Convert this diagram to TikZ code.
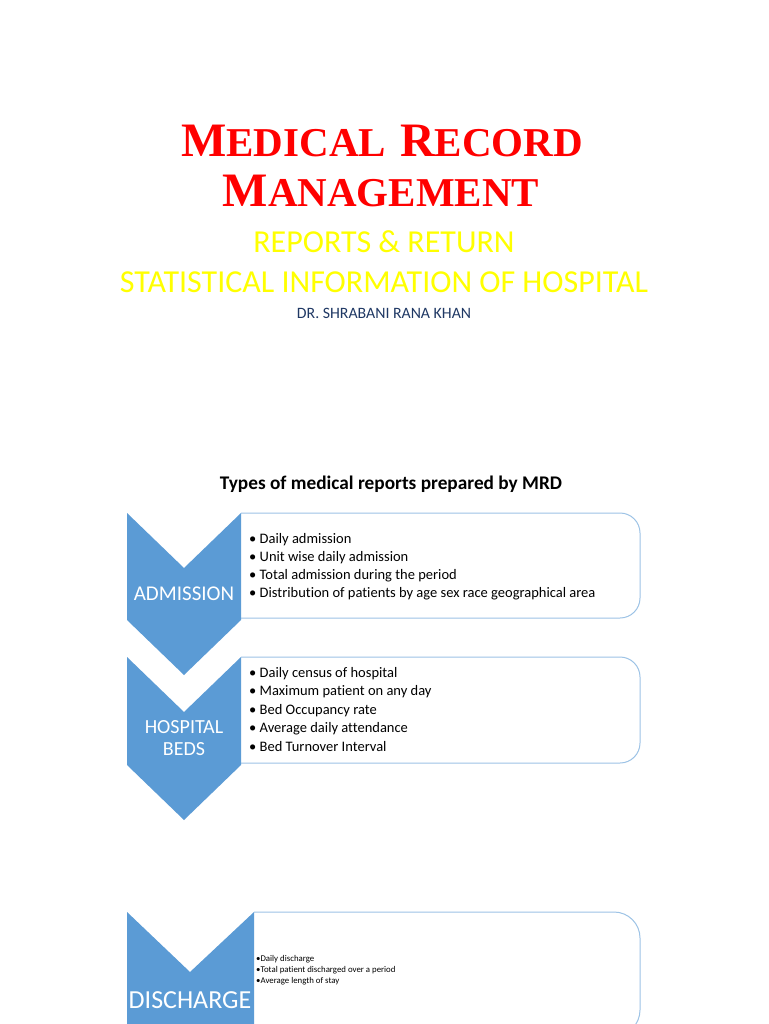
\documentclass[tikz,border=0pt]{standalone}
\usepackage{fontspec}
\setmainfont{Carlito}[Ligatures=NoCommon]
\newfontfamily\titlefont{Liberation Serif}
\definecolor{chevblue}{HTML}{5B9BD5}
\definecolor{boxline}{HTML}{9DC3E6}
\definecolor{titlered}{HTML}{FF0000}
\definecolor{subyellow}{HTML}{FFFF00}
\definecolor{authblue}{HTML}{1F3864}
\newcommand{\bigsc}[2]{{\fontsize{48}{48}\selectfont #1}{\fontsize{41}{41}\selectfont #2}}
\begin{document}
\begin{tikzpicture}[x=1pt,y=-1pt,
  chev/.style={fill=chevblue},
  infobox/.style={draw=boxline,line width=1pt},
  chevlabel/.style={text=white,anchor=base,align=center,inner sep=0pt},
  bul/.style={anchor=base west,inner sep=0pt,font=\fontsize{14.5}{14.5}\selectfont},
  smallbul/.style={anchor=base west,inner sep=0pt,font=\fontsize{8.8}{8.8}\selectfont}]
\useasboundingbox (0,0) rectangle (768,1024);
\clip (0,0) rectangle (768,1024);
\fill[white] (0,0) rectangle (768,1024);
% title
\node[anchor=base,inner sep=0pt,text=titlered] (t1) at (382,157)
  {\titlefont\bfseries\bigsc{M}{EDICAL}\hspace{14pt}\bigsc{R}{ECORD}};
\node[anchor=base,inner sep=0pt,text=titlered] (t2) at (381,207)
  {\titlefont\bfseries\bigsc{M}{ANAGEMENT}};
\node[anchor=base,inner sep=0pt,text=subyellow,font=\fontsize{32}{32}\selectfont] (s1) at (384,252) {REPORTS \& RETURN};
\node[anchor=base,inner sep=0pt,text=subyellow,font=\fontsize{32}{32}\selectfont] (s2) at (384,292) {STATISTICAL INFORMATION OF HOSPITAL};
\node[anchor=base,inner sep=0pt,text=authblue,font=\fontsize{15.8}{15.8}\selectfont] (au) at (384,318) {DR. SHRABANI RANA KHAN};
\node[anchor=base,inner sep=0pt,font=\fontsize{19.3}{19.3}\selectfont\bfseries] (hd) at (391,489) {Types of medical reports prepared by MRD};
% box 1
\draw[infobox] (241,513) [rounded corners=20pt] -- (640,513) -- (640,618) [sharp corners] -- (241,618);
\fill[chev] (127,513) -- (184,568) -- (241,513) -- (241,620) -- (184,675) -- (127,620) -- cycle;
\node[chevlabel,font=\fontsize{21}{21}\selectfont] (c1) at (184,600) {ADMISSION};
\node[bul] (a1) at (249,543) {\textbullet\ Daily admission};
\node[bul] (a2) at (249,561) {\textbullet\ Unit wise daily admission};
\node[bul] (a3) at (249,579) {\textbullet\ Total admission during the period};
\node[bul] (a4) at (249,597) {\textbullet\ Distribution of patients by age sex race geographical area};
% box 2
\draw[infobox] (241,657) [rounded corners=20pt] -- (640,657) -- (640,763) [sharp corners] -- (241,763);
\fill[chev] (127,657) -- (184,712) -- (241,657) -- (241,765) -- (184,820) -- (127,765) -- cycle;
\node[chevlabel,font=\fontsize{20}{20}\selectfont] (c2a) at (184,733) {HOSPITAL};
\node[chevlabel,font=\fontsize{20}{20}\selectfont] (c2b) at (184,755) {BEDS};
\node[bul] (b1) at (249,677) {\textbullet\ Daily census of hospital};
\node[bul] (b2) at (249,695) {\textbullet\ Maximum patient on any day};
\node[bul] (b3) at (249,714) {\textbullet\ Bed Occupancy rate};
\node[bul] (b4) at (249,732) {\textbullet\ Average daily attendance};
\node[bul] (b5) at (249,751) {\textbullet\ Bed Turnover Interval};
% box 3
\draw[infobox] (254,912) [rounded corners=26pt] -- (640,912) -- (640,1036) [sharp corners] -- (254,1036);
\fill[chev] (127,912) -- (190,972) -- (254,912) -- (254,1040) -- (127,1040) -- cycle;
\node[chevlabel,font=\fontsize{26}{26}\selectfont] (c3) at (190,1008) {DISCHARGE};
\node[smallbul] (d1) at (256,961) {\textbullet Daily discharge};
\node[smallbul] (d2) at (256,972) {\textbullet Total patient discharged over a period};
\node[smallbul] (d3) at (256,983) {\textbullet Average length of stay};
\end{tikzpicture}
\end{document}
